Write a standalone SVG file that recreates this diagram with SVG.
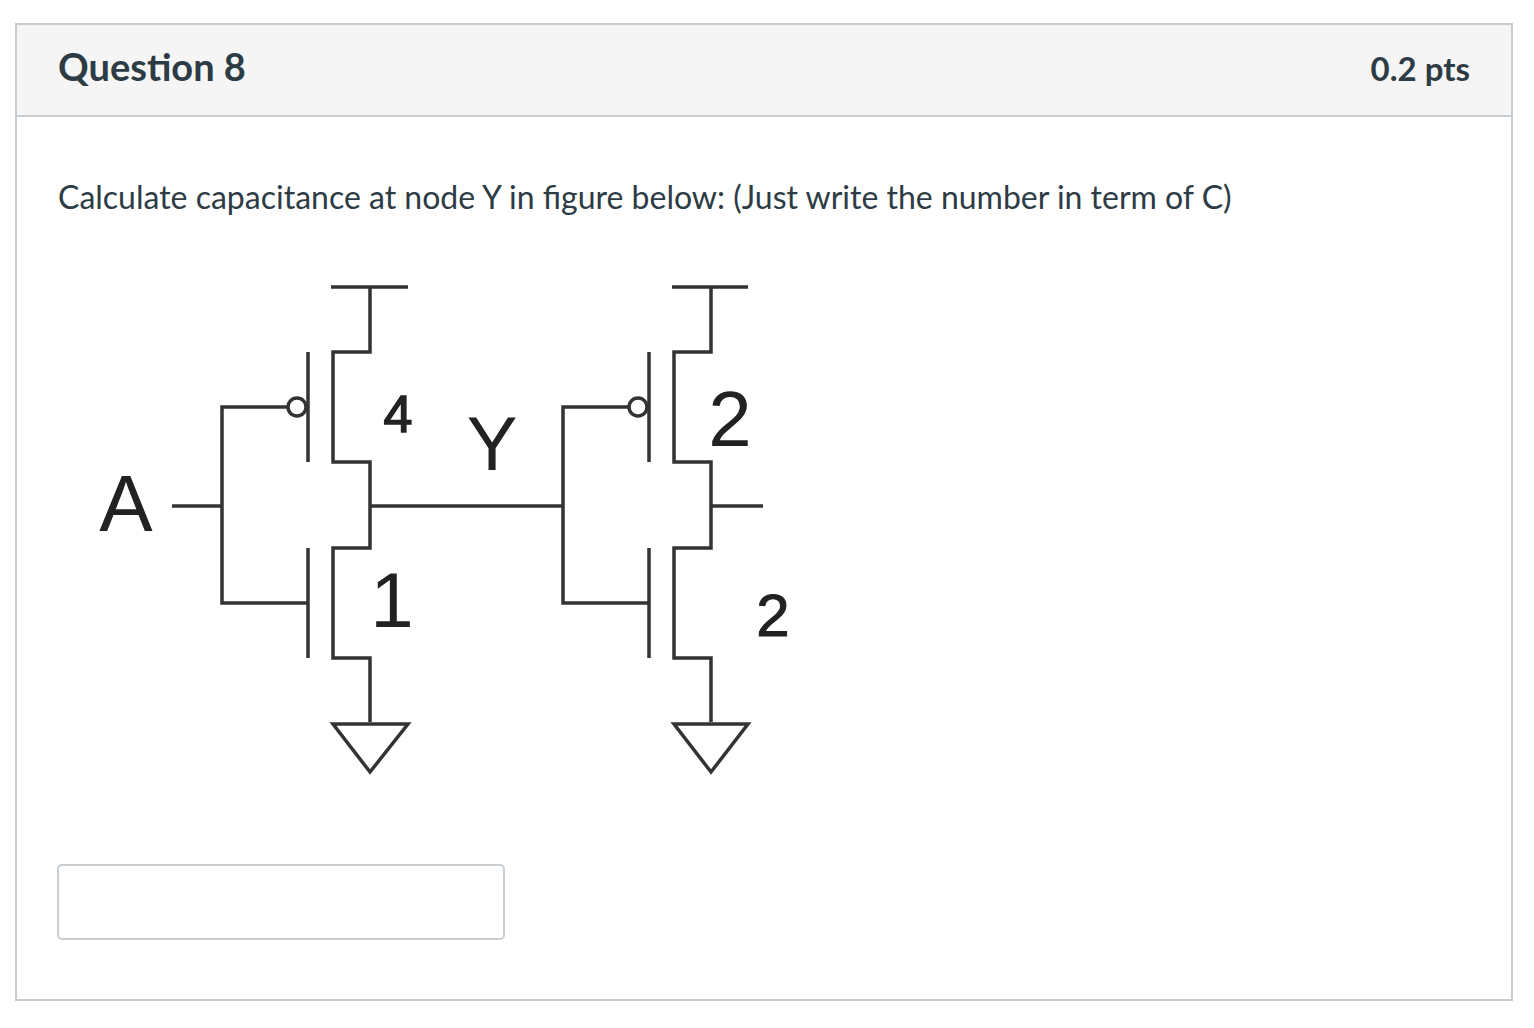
<svg xmlns="http://www.w3.org/2000/svg" width="1534" height="1028" viewBox="0 0 1534 1028">
<style>
.w{stroke:#333;stroke-width:3.5;fill:none}
.l{font-family:"Liberation Sans",Arial,sans-serif;fill:#222}
.t{font-family:Lato,"Open Sans",sans-serif;fill:#2d3b45}
</style>
<rect width="1534" height="1028" fill="#fff"/>
<g id="card">
<rect x="16" y="24" width="1496" height="976" fill="#fff" stroke="#c7cdd1" stroke-width="2"/>
<rect x="17" y="25" width="1494" height="91" fill="#f5f5f5"/>
<line x1="16" y1="116" x2="1512" y2="116" stroke="#c7cdd1" stroke-width="2"/>
<text x="58" y="81" class="t" font-size="38" font-weight="bold">Question 8</text>
<text x="1470" y="81" class="t" font-size="33" font-weight="bold" text-anchor="end" fill="#4a5860">0.2 pts</text>
<text x="58" y="209" class="t" font-size="32">Calculate capacitance at node Y in figure below: (Just write the number in term of C)</text>
<rect id="answer" x="58" y="865" width="446" height="74" rx="4" fill="#fff" stroke="#c7cdd1" stroke-width="2"/>
</g>
<g id="inv1">
<path class="w" d="M331 287H408M370 287V352H333V462H370V548H333V658H370V722"/>
<path class="w" d="M308 352V462M308 548V658"/>
<circle cx="297" cy="407" r="9" class="w"/>
<path class="w" d="M288 407H222V603H308M172 506H222"/>
<path class="w" d="M333 724H408L370 772Z"/>
</g>
<g id="inv2">
<path class="w" d="M672 287H748M711 287V352H674V462H711V548H674V658H711V722"/>
<path class="w" d="M649 352V462M649 548V658"/>
<circle cx="638" cy="407" r="9" class="w"/>
<path class="w" d="M629 407H563V603H649M711 506H763"/>
<path class="w" d="M674 724H748L711 772Z"/>
</g>
<g id="connectors">
<line class="w" x1="370" y1="506" x2="563" y2="506"/>
</g>
<g id="labels">
<text x="126" y="531" class="l" font-size="80" text-anchor="middle">A</text>
<text x="398" y="432" class="l" font-size="52" text-anchor="middle" stroke="#222" stroke-width="1.5">4</text>
<text x="492" y="470" class="l" font-size="76" text-anchor="middle">Y</text>
<text x="730" y="446" class="l" font-size="78" text-anchor="middle">2</text>
<text x="392" y="627" class="l" font-size="78" text-anchor="middle">1</text>
<text x="773" y="636" class="l" font-size="60" text-anchor="middle" stroke="#222" stroke-width="1">2</text>
</g>
</svg>
